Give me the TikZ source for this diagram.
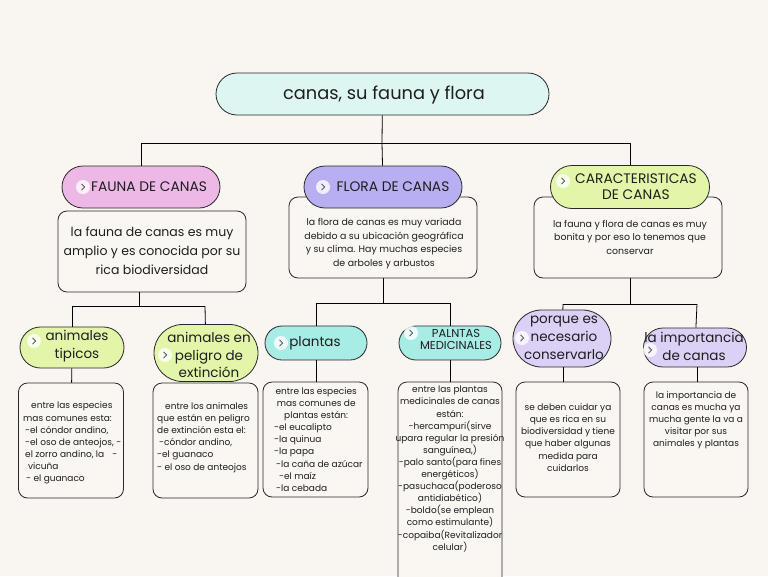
\documentclass[tikz,border=0pt]{standalone}
\usepackage{fontspec}
\setmainfont{Poppins}
\usetikzlibrary{shapes.misc}
\definecolor{bg}{RGB}{249,245,240}
\definecolor{boxc}{RGB}{250,247,243}
\definecolor{linec}{RGB}{40,40,40}
\definecolor{txt}{RGB}{30,30,30}
\definecolor{rootc}{RGB}{221,246,242}
\definecolor{faunac}{RGB}{238,184,230}
\definecolor{florac}{RGB}{184,174,242}
\definecolor{greenc}{RGB}{226,245,168}
\definecolor{cyanc}{RGB}{168,236,230}
\definecolor{lavc}{RGB}{220,208,247}
\tikzset{
  pill/.style={rounded rectangle, draw=linec, line width=0.8pt, inner sep=0pt},
  infobox/.style={draw=linec, rounded corners=9pt, fill=boxc, line width=0.8pt, inner sep=0pt},
  chev/.style={circle, fill=white, fill opacity=0.8, minimum size=14pt, inner sep=0pt,
    path picture={\draw[black!75, line width=0.7pt, draw opacity=1]
      ([xshift=-1.5pt,yshift=3.2pt]path picture bounding box.center) -- ++(3.2pt,-3.2pt) -- ++(-3.2pt,-3.2pt);}},
  rootT/.style={font=\fontsize{17.8}{20}\selectfont, text=txt, inner sep=0pt},
  hd/.style={font=\fontsize{13.8}{16}\selectfont, text=txt, align=center, inner sep=0pt},
  sub/.style={font=\fontsize{13.5}{18}\selectfont, text=txt, align=center, inner sep=0pt},
  mid/.style={font=\fontsize{12.5}{19}\selectfont, text=txt, align=center, inner sep=0pt},
  sm/.style={font=\fontsize{9.4}{13.5}\selectfont, text=txt, align=center, inner sep=0pt},
  tiny/.style={font=\fontsize{9}{12.1}\selectfont, text=txt, inner sep=0pt},
  conn/.style={draw=black, line width=0.8pt},
}
\begin{document}
\begin{tikzpicture}[x=1pt,y=-1pt]
\clip (0,0) rectangle (768,576);
\fill[bg] (0,0) rectangle (768,576);
\useasboundingbox (0,0) rectangle (768,576);

% junction coordinates
\coordinate (j1) at (382,143);
\coordinate (j1l) at (141,143);
\coordinate (j1r) at (630,143);
\coordinate (j2) at (139,306);
\coordinate (j2l) at (72,306);
\coordinate (j2r) at (205,306);
\coordinate (j3) at (383,303);
\coordinate (j3l) at (316,303);
\coordinate (j3r) at (450,303);
\coordinate (j4) at (630,304);
\coordinate (j4l) at (563,304);
\coordinate (j4r) at (697,304);

% description boxes
\node[infobox, minimum width=188pt, minimum height=81pt] (faunaD) at (152,251.5) {};
\node[infobox, minimum width=188pt, minimum height=81pt] (floraD) at (383,237.5) {};
\node[infobox, minimum width=188pt, minimum height=81pt] (caractD) at (628,237.5) {};

% bottom boxes
\node[infobox, minimum width=105pt, minimum height=115pt] (tipB) at (71,440.5) {};
\node[infobox, minimum width=105pt, minimum height=115pt] (pelB) at (205.5,440.5) {};
\node[infobox, minimum width=105pt, minimum height=115pt] (plaB) at (315.5,439.5) {};
\node[infobox, minimum width=104pt, minimum height=218pt] (medB) at (450,491) {};
\node[infobox, minimum width=104pt, minimum height=115pt] (porB) at (568,439.5) {};
\node[infobox, minimum width=104pt, minimum height=115pt] (impB) at (696,439.5) {};

% root and main pills
\node[pill, fill=rootc, minimum width=333pt, minimum height=42pt] (root) at (382.5,94) {};
\node[pill, fill=faunac, minimum width=158pt, minimum height=42pt] (fauna) at (141,187) {};
\node[pill, fill=florac, minimum width=158pt, minimum height=42pt] (flora) at (383,187) {};
\node[pill, fill=greenc, minimum width=159pt, minimum height=43pt] (caract) at (630,187) {};

% sub pills
\node[pill, fill=greenc, minimum width=104pt, minimum height=41pt] (tip) at (72,347.5) {};
\node[pill, fill=greenc, minimum width=104pt, minimum height=57pt] (pel) at (206,353) {};
\node[pill, fill=cyanc, minimum width=102pt, minimum height=34pt] (pla) at (316,343) {};
\node[pill, fill=cyanc, minimum width=102pt, minimum height=34pt] (med) at (450,343) {};
\node[pill, fill=lavc, minimum width=98pt, minimum height=57pt] (por) at (562,338.5) {};
\node[pill, fill=lavc, minimum width=103pt, minimum height=39pt] (imp) at (695,347.5) {};

% connectors
\draw[conn] (root) -- (j1);
\draw[conn] (j1l) -- (j1r);
\draw[conn] (j1l) -- (fauna);
\draw[conn] (j1) -- (flora);
\draw[conn] (j1r) -- (caract);
\draw[conn] (j2 |- faunaD.south) -- (j2);
\draw[conn] (j2l) -- (j2r);
\draw[conn] (j2l) -- (tip);
\draw[conn] (j2r) -- (pel);
\draw[conn] (tip) -- (tipB);
\draw[conn] (floraD) -- (j3);
\draw[conn] (j3l) -- (j3r);
\draw[conn] (j3l) -- (pla);
\draw[conn] (j3r) -- (med);
\draw[conn] (pla) -- (pla |- plaB.north);
\draw[conn] (med) -- (med |- medB.north);
\draw[conn] (j4 |- caractD.south) -- (j4);
\draw[conn] (j4l) -- (j4r);
\draw[conn] (j4l) -- (por);
\draw[conn] (j4r) -- (imp);
\draw[conn] (por.south -| j4l) -- (j4l |- porB.north);
\draw[conn] (imp.south -| j4r) -- (j4r |- impB.north);

% chevrons
\node[chev] (faunaC) at (83,187) {};
\node[chev] (floraC) at (323,187) {};
\node[chev] (caractC) at (563,181) {};
\node[chev] (tipC) at (34,341) {};
\node[chev] (pelC) at (165,355) {};
\node[chev] (plaC) at (281,343) {};
\node[chev] (medC) at (411,333) {};
\node[chev] (porC) at (522,338) {};
\node[chev] (impC) at (650,350) {};

% texts
\node[rootT] (rootT) at (384,95) {canas, su fauna y flora};
\node[hd] (faunaT) at (149,187) {FAUNA DE CANAS};
\node[hd] (floraT) at (393,187) {FLORA DE CANAS};
\node[hd, font=\fontsize{13.8}{16}\selectfont] (caractT) at (636,187) {CARACTERISTICAS\\DE CANAS};
\node[mid] (faunaDT) at (152,251) {la fauna de canas es muy\\amplio y es conocida por su\\rica biodiversidad};
\node[sm] (floraDT) at (384,243.5) {la flora de canas es muy variada\\debido a su ubicación geográfica\\y su clima. Hay muchas especies\\de arboles y arbustos};
\node[sm] (caractDT) at (630,237) {la fauna y flora de canas es muy\\bonita y por eso lo tenemos que\\conservar};

\node[sub] (tipT) at (77,346.5) {animales\\tipicos};
\node[sub, font=\fontsize{13.5}{17.5}\selectfont] (pelT) at (209,355) {animales en\\peligro de\\extinción};
\node[sub] (plaT) at (315,343) {plantas};
\node[hd, font=\fontsize{11.5}{12}\selectfont] (medT) at (456,339.5) {PALNTAS\\MEDICINALES};
\node[sub] (porT) at (564,337.5) {porque es\\necesario\\conservarlo};
\node[sub] (impT) at (694,346.5) {la importancia\\de canas};

\node[tiny, align=left, anchor=west] (tipBT) at (23,443) {\hspace*{8pt}entre las especies\\mas comunes esta:\\\hspace*{2pt}-el cóndor andino,\\\hspace*{2pt}-el oso de anteojos, -\\\hspace*{2pt}el zorro andino, la\hspace{8pt}-\\\hspace*{5pt}vicuña\\\hspace*{3pt}- el guanaco};
\node[tiny, align=left, anchor=west] (pelBT) at (157,437.5) {\hspace*{8pt}entre los animales\\que están en peligro\\de extinción esta el:\\\hspace*{2pt}-cóndor andino,\\-el guanaco\\- el oso de anteojos};
\node[tiny, align=left, anchor=west] (plaBT) at (266,439.5) {\makebox[100pt][c]{entre las especies}\\\makebox[100pt][c]{mas comunes de}\\\makebox[100pt][c]{plantas están:}\\\hspace*{8pt}-el eucalipto\\\hspace*{8pt}-la quinua\\\hspace*{8pt}-la papa\\\hspace*{10pt}-la caña de azúcar\\\hspace*{13pt}-el maíz\\\hspace*{10pt}-la cebada};
\node[tiny, align=center] (medBT) at (450,469) {entre las plantas\\medicinales de canas\\están:\\-hercampuri(sirve\\upara regular la presión\\sanguínea,)\\-palo santo(para fines\\energéticos)\\-pasuchaca(poderoso\\antidiabético)\\-boldo(se emplean\\como estimulante)\\-copaiba(Revitalizador\\celular)};
\node[tiny, align=center] (porBT) at (568,437.5) {se deben cuidar ya\\que es rica en su\\biodiversidad y tiene\\que haber algunas\\medida para\\cuidarlos};
\node[tiny, align=center] (impBT) at (696,420) {la importancia de\\canas es mucha ya\\mucha gente la va a\\visitar por sus\\animales y plantas};
\end{tikzpicture}
\end{document}
